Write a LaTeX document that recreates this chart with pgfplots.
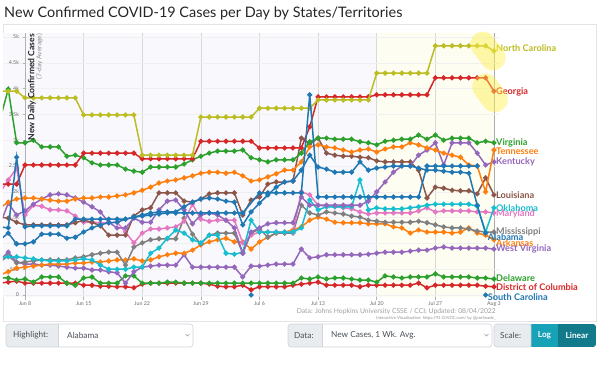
\documentclass[border=0pt]{standalone}
\usepackage{fontspec}
\setmainfont{Lato}
\usepackage{pgfplots}
\pgfplotsset{compat=1.18}
\definecolor{cBlue}{HTML}{1F77B4}
\definecolor{cOrange}{HTML}{FF7F0E}
\definecolor{cGreen}{HTML}{2CA02C}
\definecolor{cRed}{HTML}{D62728}
\definecolor{cPurple}{HTML}{9467BD}
\definecolor{cBrown}{HTML}{8C564B}
\definecolor{cPink}{HTML}{E377C2}
\definecolor{cGray}{HTML}{7F7F7F}
\definecolor{cOlive}{HTML}{BCBD22}
\definecolor{cCyan}{HTML}{17BECF}
\definecolor{plotbg}{HTML}{F9F9FD}
\definecolor{hlbg}{HTML}{FDFDF1}
\definecolor{panelborder}{HTML}{E3E3E8}
\definecolor{ctrlbg}{HTML}{E9ECEF}
\definecolor{ctrlborder}{HTML}{CED4DA}
\definecolor{ctrltext}{HTML}{495057}
\definecolor{btnlog}{HTML}{17A2B8}
\definecolor{btnlin}{HTML}{117A8B}
\definecolor{hilite}{HTML}{FFF04A}
\tikzset{lab/.style={anchor=west, inner sep=0.5bp, xshift=1.5bp, font=\fontsize{9.2}{10}\selectfont\bfseries},
ctl/.style={anchor=west, inner sep=0pt, font=\fontsize{8.3}{9}\selectfont, text=ctrltext}}
\begin{document}
\begin{tikzpicture}[x=1bp,y=1bp]
\useasboundingbox (0,0) rectangle (600,386);
\fill[white] (0,0) rectangle (600,386);
\node[anchor=base west, inner sep=0pt, font=\fontsize{14.5}{17}\selectfont, text=black!85] at (4,369) {New Confirmed COVID-19 Cases per Day by States/Territories};
\draw[panelborder, fill=white, line width=0.6] (3.5,65) rectangle (596.5,362);
\fill[plotbg] (3,89) rectangle (494,353);
\fill[hlbg] (377,89) rectangle (494,353);
\draw[gray!65, line width=0.9] (494,87) -- (494,353);
\begin{axis}[
  at={(25bp,91bp)}, anchor=origin, scale only axis,
  width=496bp, height=264bp,
  xmin=-2.63, xmax=56.6, ymin=-39, ymax=5078,
  axis x line=bottom, axis y line=middle,
  x axis line style={draw=none},
  y axis line style={draw=gray!60, line width=0.7bp, -},
  xtick={0,7,...,49},
  xticklabels={Jun 8,Jun 15,Jun 22,Jun 29,Jul 6,Jul 13,Jul 20,Jul 27},
  extra x ticks={56}, extra x tick labels={Aug 3},
  extra x tick style={grid=none},
  ytick={0,500,...,5000},
  yticklabels={0,500,1k,1.5k,2k,2.5k,3k,3.5k,4k,4.5k,5k},
  tick label style={font=\fontsize{5.3}{6}\selectfont, text=gray!85!black},
  xticklabel style={yshift=1bp},
  major tick length=2.5bp,
  tick align=outside,
  tick style={draw=gray!60, line width=0.5bp},
  grid=major,
  x grid style={draw=gray!30, line width=0.7bp},
  y grid style={draw=gray!12, line width=0.6bp},
  clip mode=individual,
  every axis plot/.append style={line width=1.5bp, mark=*, mark size=1.75bp},
]
% District of Columbia
\addplot[cRed] coordinates {(-3,230)(-2,250)(-1,270)(0,230)(1,230)(2,230)(3,230)(4,230)(5,230)(6,230)(7,190)(8,190)(9,170)(10,170)(11,160)(12,160)(13,140)(14,210)(15,230)(16,230)(17,230)(18,230)(19,230)(20,230)(21,230)(22,210)(23,170)(24,160)(25,160)(26,190)(27,100)(28,160)(29,160)(30,160)(31,160)(32,190)(33,210)(34,230)(35,250)(36,190)(37,190)(38,190)(39,190)(40,160)(41,190)(42,190)(43,190)(44,190)(45,190)(46,190)(47,230)(48,140)(49,190)(50,190)(51,190)(52,190)(53,190)(54,190)(55,170)(56,160)};
% Delaware
\addplot[cGreen] coordinates {(-3,330)(-2,330)(-1,290)(0,310)(1,250)(2,350)(3,350)(4,350)(5,230)(6,190)(7,330)(8,350)(9,230)(10,230)(11,230)(12,370)(13,370)(14,230)(15,230)(16,230)(17,250)(18,250)(19,230)(20,230)(21,230)(22,230)(23,230)(24,230)(25,230)(26,230)(27,230)(28,230)(29,230)(30,230)(31,230)(32,230)(33,330)(34,310)(35,350)(36,310)(37,330)(38,330)(39,310)(40,290)(41,290)(42,250)(43,370)(44,350)(45,330)(46,350)(47,350)(48,350)(49,410)(50,350)(51,350)(52,350)(53,350)(54,330)(55,330)(56,310)};
% West Virginia
\addplot[cPurple] coordinates {(-3,680)(-2,830)(-1,640)(0,600)(1,600)(2,580)(3,580)(4,560)(5,540)(6,520)(7,520)(8,485)(9,485)(10,450)(11,430)(12,230)(13,450)(14,540)(15,560)(16,580)(17,580)(18,580)(19,780)(20,540)(21,540)(22,540)(23,540)(24,540)(25,540)(26,350)(27,560)(28,560)(29,580)(30,600)(31,600)(32,600)(33,890)(34,720)(35,740)(36,780)(37,780)(38,780)(39,780)(40,780)(41,790)(42,810)(43,830)(44,830)(45,830)(46,850)(47,870)(48,870)(49,910)(50,930)(51,910)(52,910)(53,910)(54,910)(55,910)(56,890)};
% Arkansas
\addplot[cOrange] coordinates {(-3,390)(-2,450)(-1,520)(0,540)(1,560)(2,580)(3,600)(4,600)(5,600)(6,620)(7,620)(8,640)(9,640)(10,660)(11,680)(12,680)(13,700)(14,660)(15,680)(16,740)(17,780)(18,810)(19,810)(20,870)(21,970)(22,1030)(23,1070)(24,1100)(25,1030)(26,1030)(27,890)(28,1030)(29,1120)(30,1200)(31,1220)(32,1260)(33,1320)(34,1450)(35,1510)(36,1470)(37,1410)(38,1400)(39,1400)(40,1400)(41,1380)(42,1380)(43,1380)(44,1320)(45,1300)(46,1200)(47,1260)(48,1220)(49,1220)(50,1220)(51,1200)(52,1220)(53,1300)(54,1200)(55,1160)(56,1070)};
% Mississippi
\addplot[cGray] coordinates {(-3,640)(-2,760)(-1,620)(0,640)(1,660)(2,680)(3,680)(4,680)(5,680)(6,720)(7,740)(8,780)(9,810)(10,830)(11,830)(12,580)(13,930)(14,1010)(15,1070)(16,1090)(17,1090)(18,1090)(19,1490)(20,1180)(21,990)(22,1160)(23,1200)(24,1200)(25,1200)(26,810)(27,1200)(28,1280)(29,1120)(30,1200)(31,1200)(32,1200)(33,1740)(34,1590)(35,1550)(36,1610)(37,1590)(38,1570)(39,1530)(40,1510)(41,1450)(42,1430)(43,1410)(44,1410)(45,1410)(46,1410)(47,1430)(48,1400)(49,1360)(50,1320)(51,1300)(52,1300)(53,1280)(54,1240)(55,1220)(56,1220)};
% Maryland
\addplot[cPink] coordinates {(-3,1980)(-2,2230)(-1,2460)(0,1550)(1,1740)(2,1720)(3,1650)(4,1650)(5,1630)(6,1530)(7,1410)(8,1410)(9,1400)(10,1400)(11,1410)(12,1220)(13,1010)(14,1200)(15,1280)(16,1280)(17,1300)(18,1320)(19,1430)(20,1760)(21,1470)(22,1430)(23,1450)(24,1450)(25,1450)(26,1010)(27,1160)(28,1220)(29,1220)(30,1220)(31,1220)(32,1220)(33,2000)(34,1940)(35,1740)(36,1720)(37,1710)(38,1690)(39,1670)(40,1610)(41,1570)(42,1590)(43,1590)(44,1590)(45,1590)(46,1590)(47,1630)(48,1690)(49,1610)(50,1630)(51,1630)(52,1630)(53,1630)(54,1610)(55,1610)(56,1590)};
% Oklahoma
\addplot[cCyan] coordinates {(-3,720)(-2,740)(-1,740)(0,720)(1,700)(2,680)(3,660)(4,660)(5,660)(6,680)(7,700)(8,680)(9,580)(10,500)(11,500)(12,500)(13,540)(14,540)(15,810)(16,910)(17,1100)(18,1260)(19,1200)(20,1070)(21,1010)(22,1160)(23,1160)(24,810)(25,790)(26,830)(27,1450)(28,1220)(29,1220)(30,1220)(31,1220)(32,1220)(33,1300)(34,1840)(35,1650)(36,1710)(37,1710)(38,1710)(39,1710)(40,2230)(41,1650)(42,1690)(43,1670)(44,1670)(45,1670)(46,1690)(47,1710)(48,1740)(49,1760)(50,1760)(51,1760)(52,1760)(53,1760)(54,1720)(55,1220)(56,1690)};
% Louisiana
\addplot[cBrown] coordinates {(-3,1510)(-2,1490)(-1,1410)(0,1360)(1,1360)(2,1360)(3,1360)(4,1360)(5,1360)(6,1400)(7,1450)(8,1410)(9,1340)(10,1160)(11,1160)(12,1160)(13,1530)(14,1650)(15,1690)(16,1980)(17,1980)(18,1980)(19,1820)(20,1800)(21,1860)(22,1960)(23,1980)(24,1980)(25,1980)(26,1550)(27,1840)(28,1900)(29,2150)(30,2190)(31,2190)(32,2210)(33,3040)(34,2930)(35,3040)(36,2750)(37,2710)(38,2690)(39,2690)(40,2670)(41,2660)(42,2600)(43,2580)(44,2580)(45,2580)(46,2580)(47,2420)(48,1880)(49,2090)(50,2070)(51,2030)(52,2020)(53,2020)(54,1960)(55,2270)(56,1940)};
% Kentucky
\addplot[cPurple] coordinates {(-3,1360)(-2,1780)(-1,1550)(0,1630)(1,1760)(2,1860)(3,1940)(4,1960)(5,1940)(6,1880)(7,1800)(8,1710)(9,1610)(10,1410)(11,1300)(12,1300)(13,1490)(14,1410)(15,1410)(16,1650)(17,1820)(18,1840)(19,1650)(20,1380)(21,1550)(22,1590)(23,1550)(24,1450)(25,1300)(26,810)(27,1220)(28,1300)(29,1380)(30,1400)(31,1400)(32,1400)(33,1900)(34,1740)(35,1740)(36,1740)(37,1740)(38,1740)(39,1740)(40,1740)(41,1820)(42,2000)(43,2190)(44,2380)(45,2500)(46,2500)(47,2710)(48,2810)(49,2950)(50,2520)(51,2950)(52,2950)(53,2950)(54,2750)(55,2520)(56,2580)};
% Tennessee
\addplot[cOrange] coordinates {(-3,1690)(-2,1800)(-1,1860)(0,1880)(1,1880)(2,1860)(3,1840)(4,1820)(5,1820)(6,1860)(7,1880)(8,1880)(9,1900)(10,1900)(11,1920)(12,1940)(13,1980)(14,2030)(15,2090)(16,2170)(17,2210)(18,2230)(19,2270)(20,2310)(21,2360)(22,2380)(23,2380)(24,2360)(25,2380)(26,2310)(27,2210)(28,2230)(29,2290)(30,2350)(31,2420)(32,2420)(33,2580)(34,2870)(35,2910)(36,2870)(37,2850)(38,2810)(39,2770)(40,2810)(41,2830)(42,2770)(43,2830)(44,2870)(45,2870)(46,2950)(47,2910)(48,2850)(49,2810)(50,2750)(51,2710)(52,2670)(53,2520)(54,2500)(55,2000)(56,2810)};
% Virginia
\addplot[cGreen] coordinates {(-3,3390)(-2,3990)(-1,2950)(0,2950)(1,3000)(2,2870)(3,2870)(4,2870)(5,2690)(6,2710)(7,2660)(8,2560)(9,2520)(10,2520)(11,2520)(12,2440)(13,2400)(14,2380)(15,2480)(16,2480)(17,2480)(18,2480)(19,2540)(20,2620)(21,2690)(22,2750)(23,2790)(24,2790)(25,2790)(26,2810)(27,2660)(28,2620)(29,2580)(30,2620)(31,2620)(32,2620)(33,2750)(34,2970)(35,3040)(36,3040)(37,3020)(38,3020)(39,3020)(40,2970)(41,2950)(42,2910)(43,2980)(44,3000)(45,3020)(46,3020)(47,3100)(48,3020)(49,3100)(50,3000)(51,3040)(52,3040)(53,3040)(54,2950)(55,2980)(56,2950)};
% Georgia
\addplot[cRed] coordinates {(-3,2150)(-2,2150)(-1,2150)(0,2520)(1,2520)(2,2520)(3,2520)(4,2520)(5,2520)(6,2520)(7,2750)(8,2750)(9,2750)(10,2750)(11,2750)(12,2750)(13,2750)(14,2640)(15,2640)(16,2640)(17,2640)(18,2640)(19,2640)(20,2640)(21,2980)(22,2980)(23,2980)(24,2980)(25,2980)(26,2980)(27,2980)(28,2850)(29,2850)(30,2850)(31,2850)(32,2850)(33,2850)(34,3260)(35,3840)(36,3840)(37,3840)(38,3840)(39,3840)(40,3840)(41,3840)(42,3880)(43,3880)(44,3880)(45,3880)(46,3880)(47,3880)(48,3880)(49,4210)(50,4210)(51,4210)(52,4210)(53,4210)(54,4210)(55,4210)(56,3950)};
% North Carolina
\addplot[cOlive] coordinates {(-3,3950)(-2,3950)(-1,3950)(0,3820)(1,3820)(2,3820)(3,3820)(4,3820)(5,3820)(6,3820)(7,3490)(8,3490)(9,3490)(10,3490)(11,3490)(12,3490)(13,3490)(14,2710)(15,2710)(16,2710)(17,2710)(18,2710)(19,2710)(20,2710)(21,3450)(22,3450)(23,3450)(24,3450)(25,3450)(26,3450)(27,3450)(28,3620)(29,3620)(30,3620)(31,3620)(32,3620)(33,3620)(34,3620)(35,3780)(36,3780)(37,3780)(38,3780)(39,3780)(40,3780)(41,3780)(42,4300)(43,4300)(44,4300)(45,4300)(46,4300)(47,4300)(48,4300)(49,4830)(50,4830)(51,4830)(52,4830)(53,4830)(54,4830)(55,4830)(56,4730)};
% South Carolina
\addplot[cBlue] coordinates {(-3,1320)(-2,1300)(-1,2670)(0,1320)(1,1340)(2,1340)(3,1340)(4,1340)(5,1340)(6,1470)(7,1470)(8,1470)(9,1470)(10,1470)(11,1470)(12,1470)(13,1510)(14,1530)(15,1550)(16,1570)(17,1590)(18,1590)(19,1590)(20,1590)(21,1590)(22,1590)(23,1590)(24,1590)(25,1590)(26,1590)(28,1980)(29,1980)(30,1980)(31,1980)(32,1980)(33,1980)(34,3880)(35,1900)(36,1900)(37,1900)(38,1900)(39,1900)(40,1900)(41,1900)(42,1900)(43,1900)(44,1900)(45,1900)(46,1900)(47,1900)(48,2500)(49,2500)(50,2500)(51,2500)(52,2500)(53,2500)(54,2500)};
\addplot[cBlue, only marks] coordinates {(27,0)(55,0)};
% Alabama
\addplot[cBlue] coordinates {(-3,1070)(-2,1200)(-1,990)(0,990)(1,1030)(2,1180)(3,1180)(4,1180)(5,1100)(6,1120)(7,1220)(8,1300)(9,1360)(10,1400)(11,1410)(12,1470)(13,1510)(14,1550)(15,1590)(16,1610)(17,1610)(18,1610)(19,1710)(20,1800)(21,1860)(22,1880)(23,1860)(24,1820)(25,1800)(26,1360)(27,1610)(28,1780)(29,1940)(30,2090)(31,2190)(32,2210)(33,2420)(34,2710)(35,2480)(36,2440)(37,2380)(38,2380)(39,2380)(40,2580)(41,2420)(42,2460)(43,2480)(44,2500)(45,2500)(46,2500)(47,2460)(48,2420)(49,2420)(50,2400)(51,2380)(52,2380)(53,2360)(54,1740)(55,1200)};
% labels
\node[lab, text=cOlive] at (axis cs:56,4787) {North Carolina};
\node[lab, text=cRed] at (axis cs:56,3934) {Georgia};
\node[lab, text=cGreen] at (axis cs:56,2946) {Virginia};
\node[lab, text=cOrange] at (axis cs:56,2791) {Tennessee};
\node[lab, text=cPurple] at (axis cs:56,2587) {Kentucky};
\node[lab, text=cBrown] at (axis cs:56,1938) {Louisiana};
\node[lab, text=cCyan] at (axis cs:56,1686) {Oklahoma};
\node[lab, text=cPink] at (axis cs:56,1579) {Maryland};
\node[lab, text=cGray] at (axis cs:56,1231) {Mississippi};
\node[lab, text=cBlue] at (axis cs:55,1114) {Alabama};
\node[lab, text=cOrange] at (axis cs:56,1008) {Arkansas};
\node[lab, text=cPurple] at (axis cs:56,891) {West Virginia};
\node[lab, text=cGreen] at (axis cs:56,320) {Delaware};
\node[lab, text=cRed] at (axis cs:56,155) {District of Columbia};
\node[lab, text=cBlue] at (axis cs:55,-39) {South Carolina};
\end{axis}
% y-axis title
\node[rotate=90, anchor=east, inner sep=0pt, font=\fontsize{8.6}{9}\selectfont\bfseries, text=black!85] at (32,352) {New Daily Confirmed Cases};
\node[rotate=90, anchor=east, inner sep=0pt, font=\fontsize{6.6}{7}\selectfont, text=gray!90] at (39.5,352) {(7-day Average)};
% highlighter marks
\fill[hilite, opacity=0.45, rotate around={-53:(488,335)}, rounded corners=12.4] (467,322.5) rectangle (509,347.5);
\fill[hilite, opacity=0.45, rotate around={-53:(490,293)}, rounded corners=12.9] (469,280) rectangle (511,306);
% source
\node[anchor=east, inner sep=0pt, font=\fontsize{6.8}{7}\selectfont, text=gray!75] at (496,74) {Data: Johns Hopkins University CSSE / CCI; Updated: 08/04/2022};
\node[anchor=east, inner sep=0pt, font=\fontsize{4.2}{5}\selectfont, text=gray!85] at (496,68) {Interactive Visualization: https://91-DIVOC.com/ by @profwade\_};
% controls: Highlight
\begin{scope}
\clip[rounded corners=3] (6,39) rectangle (193,62);
\fill[white] (6,39) rectangle (193,62);
\fill[ctrlbg] (6,39) rectangle (58,62);
\end{scope}
\draw[ctrlborder, line width=0.6, rounded corners=3] (6,39) rectangle (193,62);
\draw[ctrlborder, line width=0.6] (58,39) -- (58,62);
\node[ctl] at (13,50.5) {Highlight:};
\node[ctl] at (67,50.5) {Alabama};
\draw[gray!80, line width=0.6] (185.5,52) -- (187.5,50) -- (189.5,52);
% controls: Data
\begin{scope}
\clip[rounded corners=3] (288,39) rectangle (492,62);
\fill[white] (288,39) rectangle (492,62);
\fill[ctrlbg] (288,39) rectangle (322,62);
\end{scope}
\draw[ctrlborder, line width=0.6, rounded corners=3] (288,39) rectangle (492,62);
\draw[ctrlborder, line width=0.6] (322,39) -- (322,62);
\node[ctl] at (294,50.5) {Data:};
\node[ctl] at (331,50.5) {New Cases, 1 Wk. Avg.};
\draw[gray!80, line width=0.6] (484.5,52) -- (486.5,50) -- (488.5,52);
% controls: Scale
\begin{scope}
\clip[rounded corners=3] (494,39) rectangle (596,62);
\fill[ctrlbg] (494,39) rectangle (531,62);
\fill[btnlog] (531,39) rectangle (558,62);
\fill[btnlin] (558,39) rectangle (596,62);
\end{scope}
\draw[ctrlborder, line width=0.6, rounded corners=3] (494,39) rectangle (531,62) -- (531,39);
\node[ctl] at (500,50.5) {Scale:};
\node[anchor=center, inner sep=0pt, font=\fontsize{8.3}{9}\selectfont\bfseries, text=white] at (544.5,50.5) {Log};
\node[anchor=center, inner sep=0pt, font=\fontsize{8.3}{9}\selectfont\bfseries, text=white] at (577,50.5) {Linear};
\end{tikzpicture}
\end{document}
